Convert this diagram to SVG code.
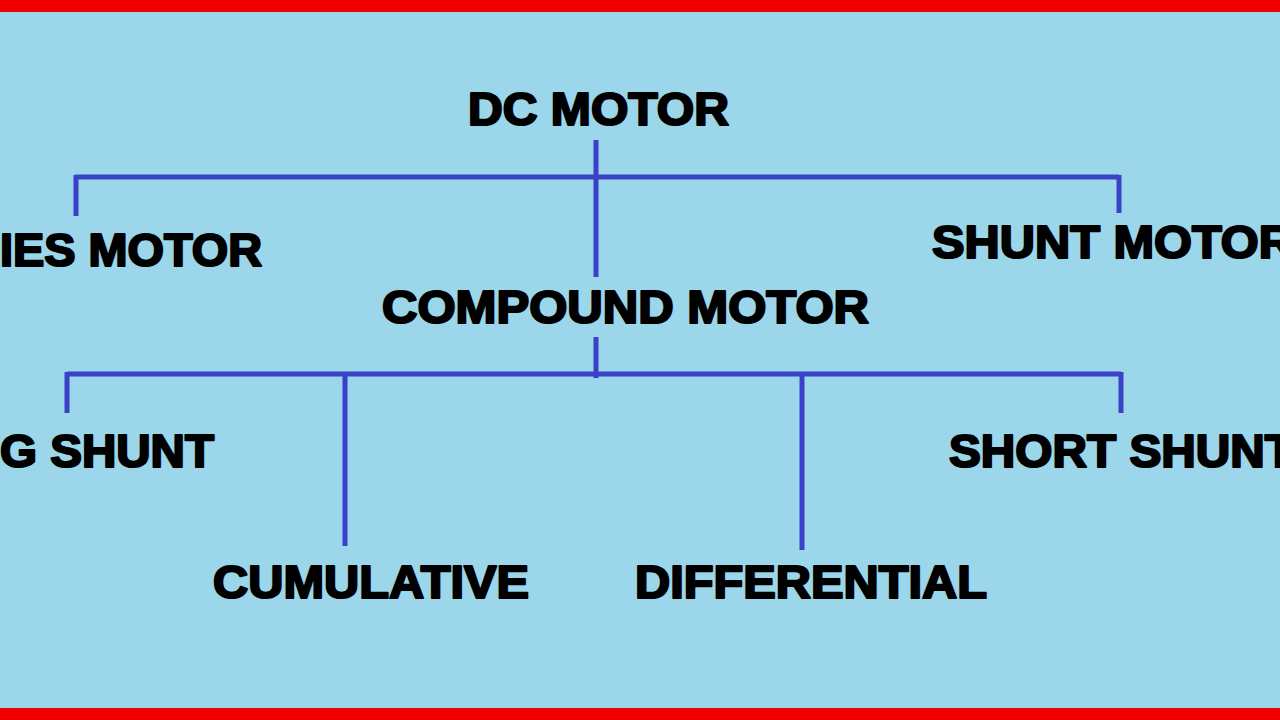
<svg xmlns="http://www.w3.org/2000/svg" width="1280" height="720" viewBox="0 0 1280 720">
<style>
.t{font-family:"Liberation Sans",Arial,sans-serif;font-weight:bold;font-size:46px;fill:#000;stroke:#000;stroke-width:2.2;stroke-linejoin:round}
.c{stroke:#3a41c6;stroke-width:5;fill:none}
</style>
<rect width="1280" height="720" fill="#9bd6ea"/>
<rect width="1280" height="12" fill="#f00000"/>
<rect y="708" width="1280" height="12" fill="#f00000"/>
<g id="connectors" class="c">
<path d="M596 140V277M75 177H1119M76 175V216M1119 175V213"/>
<path d="M596 337V378M67 374H1121M67 372V413M345 372V546M802 372V550M1121 372V413"/>
</g>
<g id="dc"><text class="t" x="468" y="125" textLength="261" lengthAdjust="spacingAndGlyphs">DC MOTOR</text></g>
<g id="series"><text class="t" x="0" y="266" textLength="262" lengthAdjust="spacingAndGlyphs">IES MOTOR</text></g>
<g id="shunt"><text class="t" x="932" y="258" textLength="362" lengthAdjust="spacingAndGlyphs">SHUNT MOTOR</text></g>
<g id="compound"><text class="t" x="382" y="323" textLength="487" lengthAdjust="spacingAndGlyphs">COMPOUND MOTOR</text></g>
<g id="long"><text class="t" x="0" y="467" textLength="214" lengthAdjust="spacingAndGlyphs">G SHUNT</text></g>
<g id="short"><text class="t" x="949" y="467" textLength="345" lengthAdjust="spacingAndGlyphs">SHORT SHUNT</text></g>
<g id="cumulative"><text class="t" x="213" y="598" textLength="316" lengthAdjust="spacingAndGlyphs">CUMULATIVE</text></g>
<g id="differential"><text class="t" x="635" y="598" textLength="352" lengthAdjust="spacingAndGlyphs">DIFFERENTIAL</text></g>
</svg>
